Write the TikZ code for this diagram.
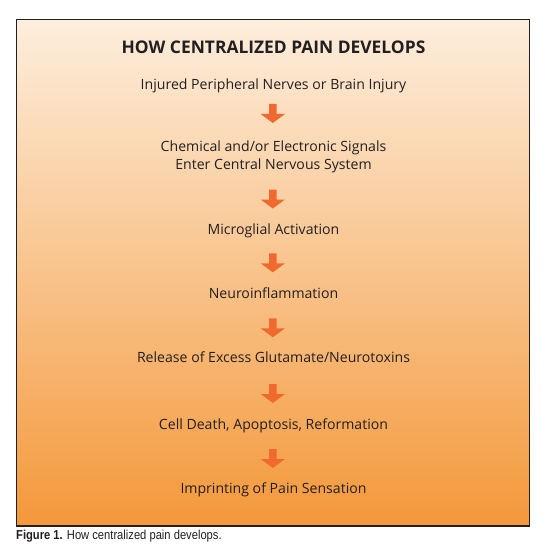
\documentclass[tikz,border=0pt]{standalone}
\usepackage{fontspec}
\setmainfont{Open Sans}
\newfontfamily\capfont[FakeStretch=0.86]{Liberation Sans}
\definecolor{topc}{HTML}{FDEEDD}
\definecolor{botc}{HTML}{F4983A}
\definecolor{arrowc}{HTML}{F0692E}
\definecolor{txtc}{HTML}{231F20}
\tikzset{
  steptext/.style={anchor=base, text=txtc, font=\fontsize{14.1}{17.6}\selectfont, align=center, inner sep=0pt},
  titletext/.style={anchor=base, text=txtc, font=\fontsize{17.4}{20}\selectfont\bfseries, inner sep=0pt},
  blockarrow/.pic={\fill[arrowc] (-3.7,0) -- (3.7,0) -- (3.7,10) -- (12.2,10) -- (0,19) -- (-12.2,10) -- (-3.7,10) -- cycle;}
}
\begin{document}
\begin{tikzpicture}[x=1pt,y=-1pt]
\useasboundingbox (0,0) rectangle (548,556);
\shade[top color=topc, bottom color=botc] (16.5,19.5) rectangle (529.5,526);
\draw[line width=1.3pt, txtc] (16.5,19.5) rectangle (529.5,526);
\node[titletext] (title) at (273.5,54) {HOW CENTRALIZED PAIN DEVELOPS};
\node[steptext] (s1) at (273.5,89.3) {Injured Peripheral Nerves or Brain Injury};
\pic at (272.8,104) {blockarrow};
\node[steptext] (s2) at (273.5,169.3) {Chemical and/or Electronic Signals\\Enter Central Nervous System};
\pic at (272.8,189.5) {blockarrow};
\node[steptext] (s3) at (273.5,234) {Microglial Activation};
\pic at (272.8,253.3) {blockarrow};
\node[steptext] (s4) at (273.5,298.3) {Neuroinflammation};
\pic at (272.8,318.3) {blockarrow};
\node[steptext] (s5) at (273.5,362.3) {Release of Excess Glutamate/Neurotoxins};
\pic at (272.8,384) {blockarrow};
\node[steptext] (s6) at (273.5,429) {Cell Death, Apoptosis, Reformation};
\pic at (272.8,449) {blockarrow};
\node[steptext] (s7) at (273.5,493.3) {Imprinting of Pain Sensation};
\node[anchor=base west, inner sep=0pt, text=txtc, font=\capfont\fontsize{13}{15}\selectfont] (cap) at (16,539) {\textbf{Figure 1.} How centralized pain develops.};
\end{tikzpicture}
\end{document}
